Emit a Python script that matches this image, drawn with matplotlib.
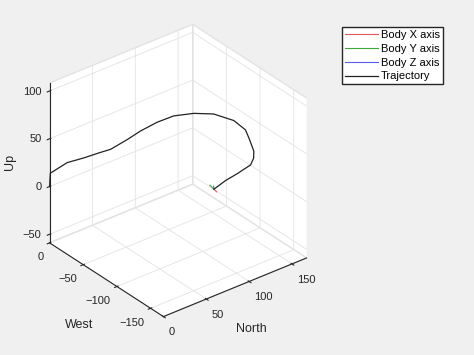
import matplotlib.pyplot as plt

plt.rcParams['font.family'] = ['Liberation Sans', 'DejaVu Sans']
plt.rcParams['grid.color'] = '#e3e3e3'
plt.rcParams['grid.linewidth'] = 0.6

# trajectory (North, West, Up)
north = [0, 0.5, 17.9, 30.7, 42.7, 52.9, 69.2, 81.8, 97.2, 111.8, 125.8, 138.3,
         146.5, 147.5, 148.8, 145.5, 143.8, 142.7, 140.3, 135.8, 131.2, 127.4, 121.8, 114.5]
west = [0, -0.5, -3.4, -11.7, -18.7, -23.1, -27.1, -30.7, -36.0, -42.0, -54.0, -67.7,
        -87.1, -95.6, -101.4, -110.7, -116.9, -121.7, -124.4, -125.6, -121.2, -116.7, -106.3, -98.3]
up = [0, 14, 20, 24, 28, 30, 36, 42, 48, 52, 55, 56,
      55, 53, 51, 48, 44, 40, 35, 30, 25, 20, 10, 0]

# body axes at the final pose: (dNorth, dWest, dUp)
body_x = [0, -4, -1]
body_y = [0, 6, 1.5]
body_z = [2, 3, 1]

fig = plt.figure(figsize=(4.74, 3.55), dpi=100, facecolor='#f0f0f0')
ax = fig.add_axes([0.0506, 0.0859, 0.633, 0.845], projection='3d', proj_type='ortho')
ax.patch.set_facecolor('#f0f0f0')
ax.view_init(elev=31, azim=-128.5)
ax.set_box_aspect((1, 1, 1.02), zoom=1.032)

p = (north[-1], west[-1], up[-1])
for d, c, lab in [(body_x, '#e35a5a', 'Body X axis'), (body_y, '#3aa83a', 'Body Y axis'),
                  (body_z, '#5a5ae8', 'Body Z axis')]:
    ax.plot([p[0], p[0] + d[0]], [p[1], p[1] + d[1]], [p[2], p[2] + d[2]], color=c, lw=0.8, label=lab)
ax.plot(north, west, up, color='#222222', lw=0.9, label='Trajectory')

ax.set_xlim(0, 167)
ax.set_ylim(-169, 0)
ax.set_zlim(-59, 108.4)
ax.set_xticks([0, 50, 100, 150])
ax.set_yticks([-150, -100, -50, 0])
ax.set_zticks([-50, 0, 50, 100])
ax.tick_params(labelsize=8, colors='#262626')
ax.xaxis.set_tick_params(pad=-2.8)
ax.yaxis.set_tick_params(pad=-3.2)
ax.zaxis.set_tick_params(pad=-4.5)
for t in ax.get_xticklabels():
    t.set_ha('left')
for t in ax.get_yticklabels():
    t.set_ha('right')
for t in ax.get_zticklabels():
    t.set_ha('right')
    t.set_va('center_baseline')

for axis in (ax.xaxis, ax.yaxis, ax.zaxis):
    axis.set_pane_color((1, 1, 1, 1))
    axis.pane.set_edgecolor('#e3e3e3')
    axis.line.set_color('#262626')
    axis.line.set_linewidth(0.8)

# axis labels placed like the MATLAB ones
fig.text(251 / 474, 1 - 329 / 355, 'North', fontsize=9, ha='center', va='center', color='#262626')
fig.text(79 / 474, 1 - 325 / 355, 'West', fontsize=9, ha='center', va='center', color='#262626')
fig.text(10 / 474, 1 - 162 / 355, 'Up', fontsize=9, ha='center', va='center', rotation=90, color='#262626')

ax.legend(loc='upper left', bbox_to_anchor=(342 / 474, 1 - 27 / 355), bbox_transform=fig.transFigure,
          fancybox=False, edgecolor='#262626', framealpha=1, fontsize=8, handlelength=3.0,
          borderpad=0.25, labelspacing=0.35, handletextpad=0.25, borderaxespad=0)

fig.savefig('out.png', dpi=100, facecolor=fig.get_facecolor())
